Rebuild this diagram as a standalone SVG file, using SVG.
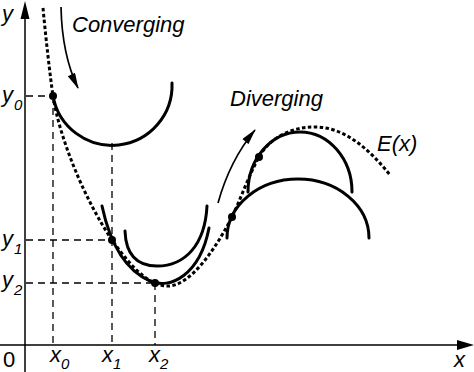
<svg xmlns="http://www.w3.org/2000/svg" width="474" height="372" viewBox="0 0 474 372">
<style>
.ax{stroke:#000;stroke-width:1.5;fill:none}
.guide{stroke:#000;stroke-width:1.3;fill:none;stroke-dasharray:7,5}
.model{stroke:#000;stroke-width:3;fill:none;stroke-linecap:round}
.energy{stroke:#000;stroke-width:3;fill:none;stroke-dasharray:3.5,2.4}
.arr{stroke:#000;stroke-width:1.7;fill:none}
.dot{fill:#000}
.lbl{font-family:"Liberation Sans",Arial,sans-serif;font-size:22px;font-style:italic;fill:#000}
.sub{font-family:"Liberation Sans",Arial,sans-serif;font-size:15px;font-style:italic;fill:#000}
.num{font-family:"Liberation Sans",Arial,sans-serif;font-size:22px;fill:#000}
</style>
<defs>
<marker id="ah" viewBox="0 0 16 8" refX="15" refY="4" markerWidth="17" markerHeight="8" markerUnits="userSpaceOnUse" orient="auto"><path d="M0,0 L16,4 L0,8 Z" fill="#000"/></marker>
</defs>
<g id="axes">
<line class="ax" x1="25" y1="372" x2="25" y2="16"/>
<path d="M25,1 L29.5,19 L20.5,19 Z" fill="#000"/>
<line class="ax" x1="0" y1="345" x2="458" y2="345"/>
<path d="M474,345 L457,340 L457,350 Z" fill="#000"/>
<text class="lbl" x="2" y="21">y</text>
<text class="lbl" x="454" y="367">x</text>
<text class="num" x="3" y="367">0</text>
</g>
<g id="guides">
<line class="guide" x1="26" y1="96" x2="53" y2="96"/>
<line class="guide" x1="26" y1="240" x2="112" y2="240"/>
<line class="guide" x1="26" y1="283" x2="155" y2="283"/>
<line class="guide" x1="53" y1="96" x2="53" y2="345"/>
<line class="guide" x1="112" y1="143" x2="112" y2="345"/>
<line class="guide" x1="155" y1="283" x2="155" y2="345"/>
</g>
<g id="tick-labels">
<text class="lbl" x="2" y="102">y</text><text class="sub" x="14" y="110">0</text>
<text class="lbl" x="2" y="246">y</text><text class="sub" x="14" y="254">1</text>
<text class="lbl" x="2" y="287">y</text><text class="sub" x="14" y="295">2</text>
<text class="lbl" x="50" y="362">x</text><text class="sub" x="61" y="369">0</text>
<text class="lbl" x="102" y="362">x</text><text class="sub" x="113" y="369">1</text>
<text class="lbl" x="149" y="362">x</text><text class="sub" x="160" y="369">2</text>
</g>
<g id="models">
<path class="model" d="M53,96 A60,60 0 0 0 172,83"/>
<path class="model" d="M102,206 C108,234 120,268 150,281 C170,290 200,275 209,228"/>
<path class="model" d="M125,231 C126,258 140,266 157,266 C185,266 205,245 207,206"/>
<path class="model" d="M248,192 A52,60 0 0 1 352,192"/>
<path class="model" d="M227,238 A71,59 0 0 1 369,238"/>
</g>
<g id="energy">
<path class="energy" d="M43,8 C46,40 50,75 53,96 C60,140 85,200 112,240 C125,258 145,286 168,286 C190,286 215,250 232,217 C241,198 249,175 259,157 C270,138 290,127 315,127 C345,127 370,150 390,175"/>
<text class="lbl" x="377" y="151">E(x)</text>
</g>
<g id="points">
<circle class="dot" cx="53" cy="96" r="4"/>
<circle class="dot" cx="112" cy="240" r="4"/>
<circle class="dot" cx="155" cy="283" r="4"/>
<circle class="dot" cx="232" cy="217" r="4"/>
<circle class="dot" cx="259" cy="157" r="4"/>
</g>
<g id="connectors">
<path class="arr" d="M61,7 Q62,55 78,88" marker-end="url(#ah)"/>
<path class="arr" d="M218,203 Q230,160 255,130" marker-end="url(#ah)"/>
</g>
<g id="captions">
<text class="lbl" x="72" y="32">Converging</text>
<text class="lbl" x="230" y="106">Diverging</text>
</g>
</svg>
